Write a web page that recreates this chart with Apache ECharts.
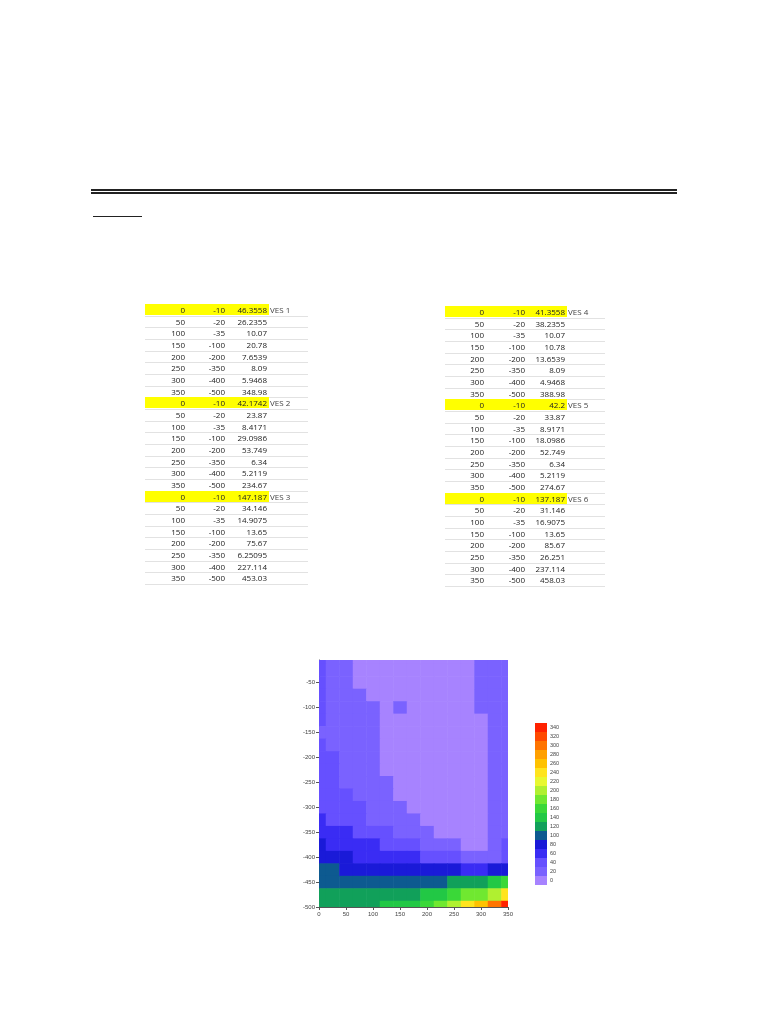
<!DOCTYPE html>
<html><head><meta charset="utf-8">
<script src="https://cdn.jsdelivr.net/npm/echarts@6/dist/echarts.min.js"></script>
<style>
body{margin:0;background:#fff;font-family:"Open Sans","Liberation Sans",sans-serif;}
#chart{position:absolute;left:0;top:0;width:768px;height:1024px;}
.row{position:absolute;height:11.67px;border-bottom:1px solid #e2e2e2;font-size:8px;line-height:11.67px;color:#222;}
.c{position:absolute;text-align:right;}
.lab{position:absolute;color:#444;}
</style></head><body>
<div id="chart"></div>
<div style="position:absolute;left:91px;top:189px;width:586px;height:1.5px;background:#222"></div>
<div style="position:absolute;left:91px;top:192px;width:586px;height:1.5px;background:#222"></div>
<div style="position:absolute;left:93px;top:216px;width:49px;height:1px;background:#222"></div>
<div id="t1"></div><div id="t2"></div>
<script>
const tableX = [0,50,100,150,200,250,300,350];
const tableDepth = [-10,-20,-35,-100,-200,-350,-400,-500];
const ves1 = ['46.3558','26.2355','10.07','20.78','7.6539','8.09','5.9468','348.98'];
const ves2 = ['42.1742','23.87','8.4171','29.0986','53.749','6.34','5.2119','234.67'];
const ves3 = ['147.187','34.146','14.9075','13.65','75.67','6.25095','227.114','453.03'];
const ves4 = ['41.3558','38.2355','10.07','10.78','13.6539','8.09','4.9468','388.98'];
const ves5 = ['42.2','33.87','8.9171','18.0986','52.749','6.34','5.2119','274.67'];
const ves6 = ['137.187','31.146','16.9075','13.65','85.67','26.251','237.114','458.03'];

const gridX = [0,25,50,75,100,125,150,175,200,225,250,275,300,325,350];
const gridY = [0,-25,-50,-75,-100,-125,-150,-175,-200,-225,-250,-275,-300,-325,-350,-375,-400,-425,-450,-475,-500];
const field = [
[45,30,30,15,10,8,8,8,8,10,12,15,25,30,32],
[45,30,30,15,10,8,8,8,8,8,10,14,25,30,32],
[44,30,28,18,12,8,6,6,6,8,10,14,24,30,32],
[43,30,28,24,16,10,8,6,6,8,10,14,22,30,32],
[42,32,28,26,22,18,24,8,6,8,10,12,22,30,32],
[42,34,30,27,24,18,12,8,6,6,8,12,20,28,32],
[40,35,32,28,25,19,12,8,6,6,8,12,20,28,32],
[44,38,33,29,25,19,12,8,6,6,8,12,18,28,32],
[46,41,35,30,26,19,12,8,6,6,8,12,18,28,33],
[48,43,37,32,27,20,13,9,6,6,8,12,18,28,33],
[50,45,40,34,28,22,15,10,7,6,8,12,18,28,34],
[54,48,43,37,31,25,19,12,8,6,8,12,18,28,35],
[60,53,47,41,35,29,23,17,12,8,8,12,18,28,36],
[66,60,54,47,40,35,29,23,17,11,8,12,18,29,38],
[72,67,62,56,48,43,38,32,26,17,12,12,18,30,40],
[82,78,74,68,62,56,50,44,40,34,22,14,18,32,45],
[88,86,83,79,75,70,66,61,56,49,41,31,22,40,55],
[104,102,100,98,96,94,92,90,88,85,82,78,80,85,95],
[115,114,113,112,112,112,112,113,115,118,122,128,135,145,165],
[125,126,127,128,130,132,135,140,148,158,170,185,200,220,245],
[128,130,132,135,138,142,148,158,170,190,215,245,280,320,350]
];
const levelColors = ['#a783ff','#7a62ff','#6650ff','#3a2cf4','#1a1ad8','#0d5a90','#11a05a','#22c845','#3ad838','#70e830','#b0f030','#e8f830','#ffe41e','#ffc200','#ffa000','#ff7400','#ff4a00','#ff2200'];

function buildTable(el, left, top, sets, names, cols, width){
  let html='';
  let r=0;
  sets.forEach((s,si)=>{
    for(let i=0;i<8;i++){
      const hl = i===0 ? `<div style="position:absolute;left:0;top:0;width:${cols[2]+2}px;height:11px;background:#ffff00"></div>`:'';
      html+=`<div class="row" style="left:${left}px;top:${top+r*11.67}px;width:${width}px">${hl}
      <div class="c" style="left:0;width:${cols[0]}px">${tableX[i]}</div>
      <div class="c" style="left:0;width:${cols[1]}px">${tableDepth[i]}</div>
      <div class="c" style="left:0;width:${cols[2]}px">${s[i]}</div>
      ${i===0?`<div class="lab" style="left:${cols[2]+3}px">${names[si]}</div>`:''}</div>`;
      r++;
    }
  });
  document.getElementById(el).innerHTML=html;
}
buildTable('t1',145,304,[ves1,ves2,ves3],['VES 1','VES 2','VES 3'],[40,80,122],163);
buildTable('t2',445,306,[ves4,ves5,ves6],['VES 4','VES 5','VES 6'],[39,80,120],160);

const data=[];
gridY.forEach((y,ri)=>gridX.forEach((x,ci)=>data.push([x,y,field[ri][ci]])));
const pieces = levelColors.map((c,i)=>({min:i*20,max:i*20+20,color:c,label:String(i*20)})).reverse();

const chart=echarts.init(document.getElementById('chart'));
chart.setOption({
  animation:false,
  grid:{left:319,top:660,width:189,height:247},
  xAxis:{type:'value',min:0,max:350,interval:50,axisLine:{lineStyle:{color:'#555'}},axisTick:{length:3},
    axisLabel:{fontSize:6,color:'#444',margin:4},splitLine:{show:false}},
  yAxis:{type:'value',min:-500,max:-5,interval:50,axisLine:{show:true,lineStyle:{color:'#555'}},axisTick:{show:true,length:3},
    axisLabel:{fontSize:6,color:'#444',margin:4,showMaxLabel:false},splitLine:{show:false}},
  visualMap:{type:'piecewise',dimension:2,pieces:pieces,left:520,top:708,itemWidth:12,itemHeight:9,itemGap:0,align:'left',
    itemSymbol:'rect',textGap:3,textStyle:{fontSize:5.5,color:'#444'},showLabel:true,selectedMode:false},
  series:[{type:'custom',clip:true,data:data,encode:{x:0,y:1},
    renderItem:function(params,api){
      const x=api.value(0),y=api.value(1);
      const p1=api.coord([x-12.5,y+12.5]),p2=api.coord([x+12.5,y-12.5]);
      return {type:'rect',shape:{x:p1[0],y:p1[1],width:p2[0]-p1[0]+0.6,height:p2[1]-p1[1]+0.6},style:{fill:api.visual('color')}};
    }}]
});
</script></body></html>
